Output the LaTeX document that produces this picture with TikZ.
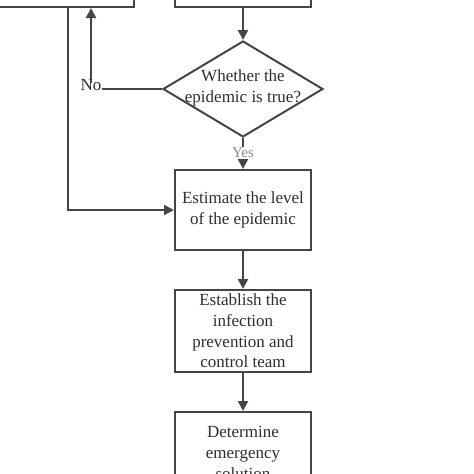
\documentclass[tikz,border=0pt]{standalone}
\usepackage{fontspec}
\setmainfont{Liberation Serif}
\usetikzlibrary{shapes.geometric,arrows.meta}
\definecolor{ln}{HTML}{454545}
\definecolor{tx}{HTML}{2E2E2E}
\definecolor{yes}{HTML}{8A8A8A}
\tikzset{
  box/.style={draw=ln, line width=2pt, minimum width=136pt, align=center, text=tx,
    font=\fontsize{17}{20.7}\selectfont, inner sep=0pt},
  arr/.style={draw=ln, line width=2pt, -{Triangle[length=10pt,width=10pt]}},
  con/.style={draw=ln, line width=2pt},
  lbl/.style={font=\fontsize{17}{20.7}\selectfont, text=tx, inner sep=0pt}
}
\begin{document}
\begin{tikzpicture}[x=1pt,y=-1pt]
\useasboundingbox (0,0) rectangle (474,474);
\fill[white] (0,0) rectangle (474,474);
% boxes
\node[box, minimum width=180pt, minimum height=70pt, anchor=south east] (tl) at (135,8) {};
\node[box, minimum height=70pt, anchor=south] (tr) at (243,8) {};
\node[draw=ln, line width=2pt, diamond, minimum width=160pt, minimum height=96pt, inner sep=0pt] (d) at (243,89) {};
\node[lbl, align=center] (dt) at (243,88) {Whether the\\epidemic is true?};
\node[box, minimum height=80pt] (e) at (243,210) {Estimate the level\\of the epidemic};
\node[box, minimum height=82pt] (t) at (243,331) {Establish the\\infection\\prevention and\\control team};
\node[box, minimum height=82pt] (s) at (243,453) {Determine\\emergency\\solution};
% labels
\node[lbl, anchor=base] (no) at (91,90) {No};
\node[lbl, text=yes, font=\fontsize{15}{18}\selectfont, fill=white, inner sep=1pt] (y) at (243,153) {Yes};
\coordinate (lx) at (68,0);
% connectors
\draw[arr] (tr) -- (d.north);
\draw[con] (d.west) -- (no.east |- d.west);
\draw[arr] ([yshift=-4pt]no.north) -- (tl.south -| no.north);
\draw[con] (d.south) -- (y.north);
\draw[arr] (y.south) -- (e.north);
\draw[arr] (tl.south -| lx) |- (e.west);
\draw[arr] (e) -- (t);
\draw[arr] (t) -- (s);
\end{tikzpicture}
\end{document}
